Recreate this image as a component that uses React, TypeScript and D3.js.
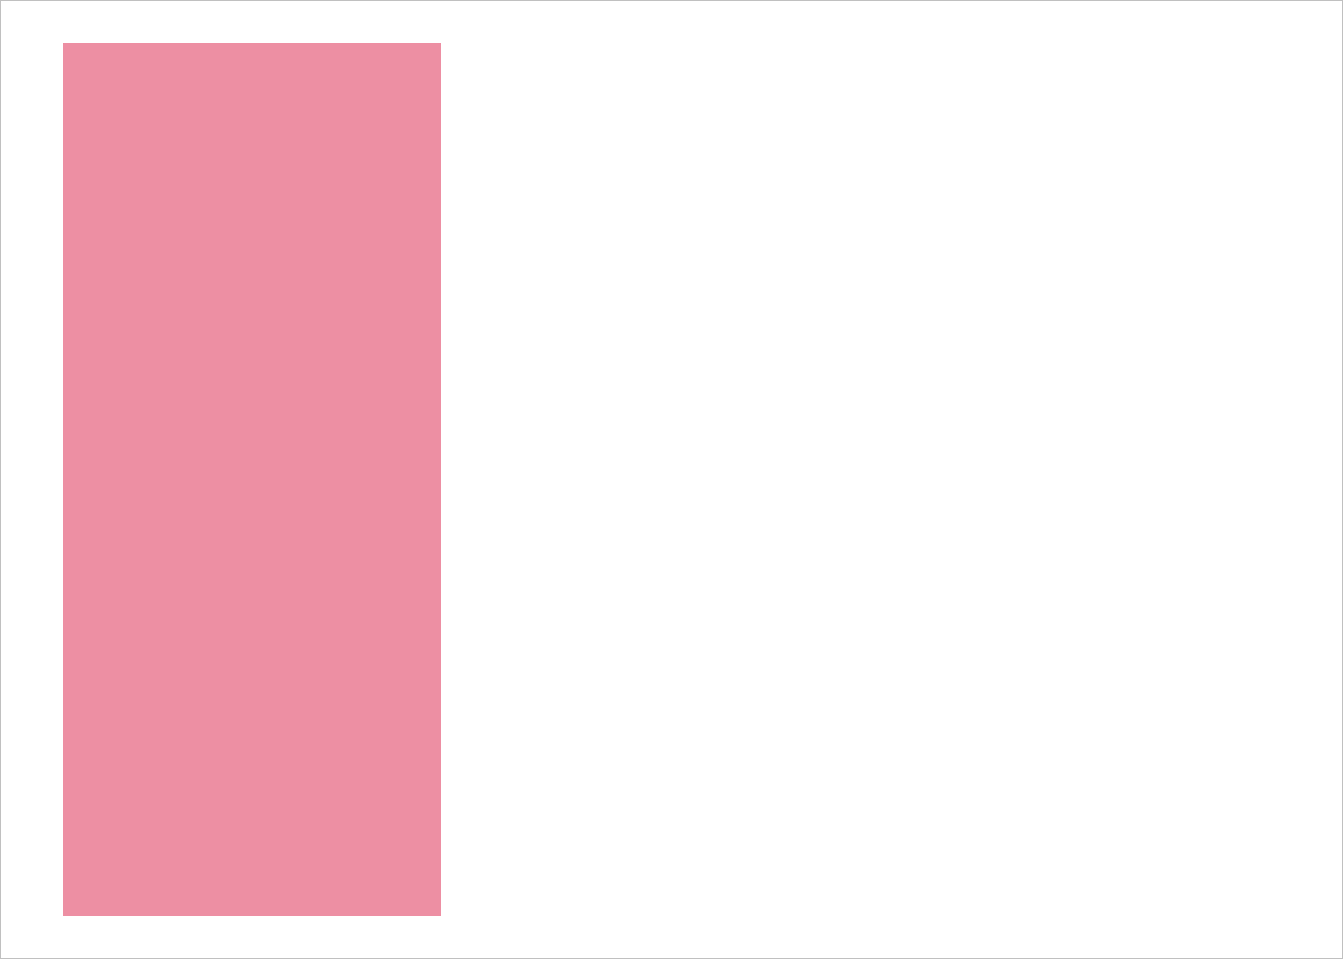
import React from "react";
import * as d3 from "d3";

const categories: string[] = ["A", "B", "C"];
const values: number[] = [100, 0, 0];

const W = 1344;
const H = 960;
const margin = { top: 43, right: 147, bottom: 44, left: 63 };

export default function App() {
  const x = d3
    .scaleBand<string>()
    .domain(categories)
    .range([margin.left, W - margin.right])
    .padding(0);
  const y = d3
    .scaleLinear()
    .domain([0, d3.max(values) as number])
    .range([H - margin.bottom, margin.top]);

  return (
    <svg
      width={W}
      height={H}
      style={{ position: "absolute", left: 0, top: 0, display: "block" }}
    >
      <rect x={0} y={0} width={W} height={H} fill="#ffffff" />
      <rect
        x={0.5}
        y={0.5}
        width={W - 2}
        height={H - 2}
        fill="none"
        stroke="#c0c0c0"
        strokeWidth={1}
      />
      {categories.map((c, i) =>
        values[i] > 0 ? (
          <rect
            key={c}
            x={x(c)}
            y={y(values[i])}
            width={x.bandwidth()}
            height={y(0) - y(values[i])}
            fill="#ed8fa3"
          />
        ) : null
      )}
    </svg>
  );
}
